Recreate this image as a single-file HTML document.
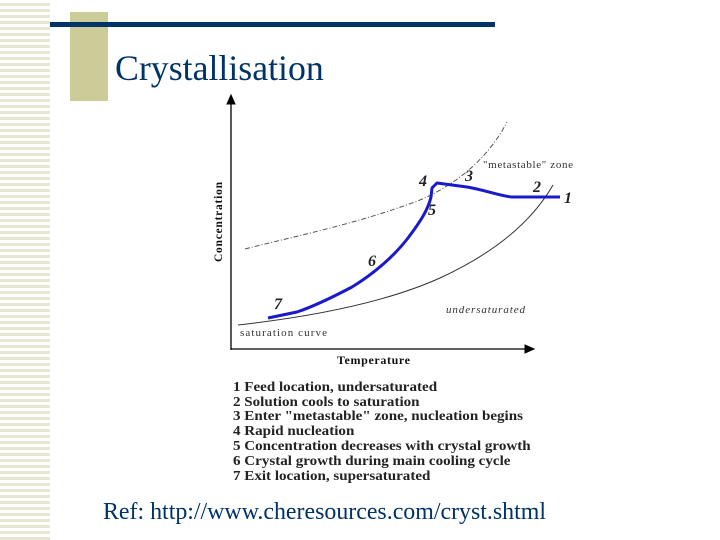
<!DOCTYPE html>
<html><head><meta charset="utf-8"><style>
body{margin:0;width:720px;height:540px;background:#fff;overflow:hidden;position:relative;font-family:"Liberation Serif",serif}
.stripes{position:absolute;left:0;top:0;width:50px;height:540px;background:repeating-linear-gradient(to bottom,#fff 0,#fff 3px,#e6e6d2 3px,#e6e6d2 6px)}
</style></head><body>
<div class="stripes"></div>
<div style="position:absolute;left:70px;top:12px;width:38px;height:89px;background:#cccc99"></div>
<div style="position:absolute;left:50px;top:22px;width:445px;height:5px;background:#003366"></div>
<div style="position:absolute;left:115px;top:47px;font-size:35.8px;color:#003366;white-space:nowrap">Crystallisation</div>
<svg style="position:absolute;left:0;top:0" width="720" height="540">
<g stroke="#000" fill="none">
<line x1="231" y1="350" x2="231" y2="100" stroke-width="1.3"/>
<polygon points="231,95 227,104 235,104" fill="#000"/>
<line x1="231" y1="349" x2="528" y2="349" stroke-width="1.3"/>
<polygon points="534,349 525,345 525,353" fill="#000"/>
<path d="M238,325 C300,318 380,305 440,278 C490,255 530,225 553,185" stroke-width="1" stroke="#333"/>
<path d="M245,249 C300,235 360,223 420,200 C460,183 490,155 507,122" stroke="#555" stroke-width="1" stroke-dasharray="5,2,1,2"/>
<path d="M268,318 L297,312 C315,306 333,297 352,287 C375,273 395,255 408,238 C420,222 428,210 431,197 L432,188 L437,183 L467,187 C485,190 500,196 512,197 L560,197" stroke="#1a1acc" stroke-width="3" stroke-linejoin="round"/>
</g>
<g font-family="Liberation Serif,serif" font-style="italic" font-weight="bold" font-size="16" fill="#222">
<text x="274" y="309">7</text><text x="368" y="266">6</text><text x="428" y="215">5</text><text x="419" y="186">4</text><text x="465" y="181">3</text><text x="533" y="192">2</text><text x="564" y="203">1</text>
</g>
<g font-family="Liberation Serif,serif" font-size="11" fill="#333">
<text x="483" y="168" textLength="90">"metastable" zone</text>
<text x="446" y="313" font-style="italic" textLength="79">undersaturated</text>
<text x="240" y="336" textLength="87">saturation curve</text>
<text x="337" y="364" font-weight="bold" font-size="12" fill="#111" textLength="73">Temperature</text>
<text transform="translate(222,262) rotate(-90)" font-weight="bold" font-size="11.5" fill="#111" textLength="80">Concentration</text>
</g>
<g font-family="Liberation Serif,serif" font-weight="bold" font-size="13.5" fill="#222" transform="translate(233,0) scale(1.116,1) translate(-233,0)">
<text x="233" y="391">1 Feed location, undersaturated</text>
<text x="233" y="406">2 Solution cools to saturation</text>
<text x="233" y="420">3 Enter "metastable" zone, nucleation begins</text>
<text x="233" y="435">4 Rapid nucleation</text>
<text x="233" y="450">5 Concentration decreases with crystal growth</text>
<text x="233" y="465">6 Crystal growth during main cooling cycle</text>
<text x="233" y="480">7 Exit location, supersaturated</text>
</g>
</svg>
<div style="position:absolute;left:103px;top:499px;font-size:23.9px;color:#003366;white-space:nowrap">Ref: http://www.cheresources.com/cryst.shtml</div>
</body></html>
